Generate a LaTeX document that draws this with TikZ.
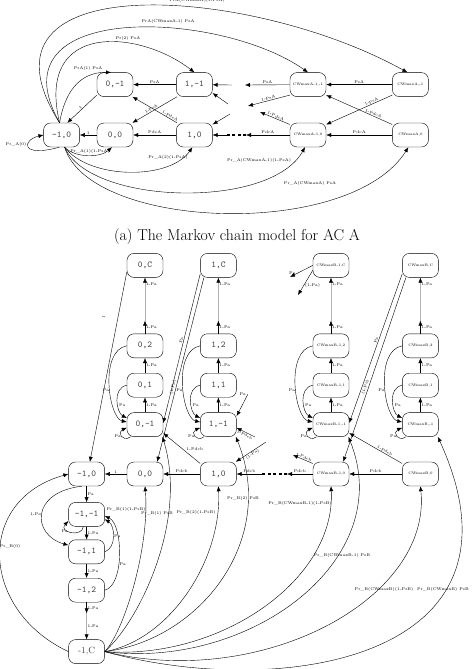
\documentclass[tikz,border=0pt]{standalone}
\usetikzlibrary{positioning,arrows.meta}

\begin{document}
\begin{tikzpicture}[
        x=1pt, y=1pt, line width=0.4pt,
        state/.style = {
            draw,
            rounded corners=7pt,
            minimum width=36pt,
            minimum height=24pt,
            inner sep=1pt,
            text=black!75,
            font=\fontsize{9}{10}\ttfamily
        },
        cwstate/.style = {state, text=black, font=\fontsize{3.6}{4}\selectfont},
        lbl/.style = {font=\fontsize{4}{4.5}\selectfont, inner sep=0.8pt},
        arr/.style = {-{Latex[length=5pt,width=4pt]}},
        faint/.style = {-{Latex[length=5pt,width=4pt,color=black]}, draw=black!30},
        gap/.style = {line width=1.3pt, dash pattern=on 3pt off 2.5pt},
        node distance=15pt]

    \useasboundingbox (0,0) rectangle (474,-669);

    % (a) chain for AC A
    \node[state] (a00) at (115,-135) {0,0};
    \node[state, left=17pt of a00] (am10) {-1,0};
    \node[state, right=43pt of a00] (a10) {1,0};
    \node[cwstate] (aV0) at (308,-135) {CWmaxA-1,0};
    \node[cwstate, right=66pt of aV0] (aW0) {CWmaxA,0};
    \node[state, above=26pt of a00] (a0m1) {0,-1};
    \node[state, above=26pt of a10] (a1m1) {1,-1};
    \node[cwstate, above=26pt of aV0] (aVm1) {CWmaxA-1,-1};
    \node[cwstate, above=26pt of aW0] (aWm1) {CWmaxA,-1};

    \coordinate (aL1) at (245,-85);
    \coordinate (aL2) at (248,-106);
    \coordinate (aL3) at (260,-112);
    \coordinate (aD1) at (246,-135);
    \coordinate (aD2) at (227,-135);
    \coordinate (aR1) at (232,-85);
    \coordinate (aR2) at (228,-104);
    \coordinate (aR3) at (230,-114);

    \draw[arr] (a1m1) -- node[lbl, above] {PsA} (a0m1);
    \draw[arr] (a1m1.-145) -- node[lbl, sloped, above, pos=0.55] {1-PsA} (a00.35);
    \draw[arr] (a10.145) -- node[lbl, sloped, above, pos=0.18] {1-PdcA} (a0m1.-35);
    \draw[arr] (a10) -- node[lbl, above] {PdcA} (a00);
    \draw[arr] (a00) -- node[lbl, above] {1} (am10);
    \draw[arr] (a0m1.-150) -- node[lbl, sloped, above] {1} (am10.65);
    \draw[arr] (aR1) -- (a1m1);
    \draw[arr] (aR2) -- (a1m1.-25);
    \draw[arr] (aR3) -- (a10.30);

    \draw[arr] (aVm1) -- node[lbl, above] {PsA} (aL1);
    \draw[arr] (aVm1.-150) -- node[lbl, sloped, above] {1-PsA} (aL2);
    \draw[arr] (aV0.150) -- node[lbl, sloped, above] {1-PdcA} (aL3);
    \draw[arr] (aV0) -- node[lbl, above] {PdcA} (aD1);
    \draw[gap] (aD1) -- (aD2);
    \draw[arr] (aD2) -- (a10);
    \draw[arr] (aWm1) -- node[lbl, above] {PsA} (aVm1);
    \draw[arr] (aWm1.-150) -- node[lbl, sloped, above, pos=0.3] {1-PsA} (aV0.30);
    \draw[arr] (aW0.150) -- node[lbl, sloped, above, pos=0.3] {1-PdcA} (aVm1.-30);
    \draw[arr] (aW0) -- node[lbl, above] {PdcA} (aV0);

    % arcs leaving -1,0
    \draw[arr] ([xshift=-2pt]am10.north) .. controls (66,-85) and (85,-72) .. ([xshift=-4pt]a0m1.north);
    \draw[arr] ([xshift=-2pt]am10.north) .. controls (35,-20) and (140,-30) .. (a1m1.north);
    \draw[arr] ([xshift=-2pt]am10.north) .. controls (-10,0) and (220,-10) .. (aVm1.north);
    \draw[arr] ([xshift=-2pt]am10.north) .. controls (-40,35) and (250,15) .. ([xshift=-3pt]aWm1.north);
    \draw[arr] (am10.-100) .. controls (20,-158) and (22,-140) .. (am10.west);
    \draw[arr] ([xshift=3pt]am10.south) .. controls (75,-158) and (100,-158) .. ([xshift=-3pt]a00.south);
    \draw[arr] ([xshift=3pt]am10.south) .. controls (90,-180) and (170,-180) .. ([xshift=-2pt]a10.south);
    \draw[arr] ([xshift=3pt]am10.south) .. controls (90,-205) and (270,-210) .. ([xshift=-3pt]aV0.south);
    \draw[arr] ([xshift=3pt]am10.south) .. controls (90,-230) and (350,-240) .. ([xshift=-2pt]aW0.south);

    \node[lbl] (tA1) at (88,-69) {PrA(1) PsA};
    \node[lbl] (tA2) at (128,-39) {Pr(2) PsA};
    \node[lbl] (tA3) at (168,-22) {PrA(CWmaxA-1) PsA};
    \node[lbl] (tA4) at (197,-1) {PrA(CWmaxA)(1-PsA)};
    \node[lbl] (tA5) at (16,-144) {Pr\_A(0)};
    \node[lbl] (tA6) at (90,-151) {Pr\_A(1)(1-PsA)};
    \node[lbl] (tA7) at (168,-157) {Pr\_A(2)(1-PsA)};
    \node[lbl] (tA8) at (259,-160) {Pr\_A(CWmaxA-1)(1-PsA)};
    \node[lbl] (tA9) at (310,-183) {Pr\_A(CWmaxA) PsA};

    \node[font=\fontsize{15.8}{18}\selectfont] (capA) at (237,-237) {(a) The Markov chain model for AC A};

    % (b) chain for AC B
    \node[state] (b00) at (145,-474) {0,0};
    \node[state, left=22pt of b00] (bm10) {-1,0};
    \node[state, right=37pt of b00] (b10) {1,0};
    \node[cwstate] (bV0) at (331,-474) {CWmaxB-1,0};
    \node[cwstate, right=53pt of bV0] (bW0) {CWmaxB,0};

    \node[state, above=25pt of b00] (b0m1) {0,-1};
    \node[state, above=of b0m1] (b01) {0,1};
    \node[state, above=of b01] (b02) {0,2};
    \node[state, above=56pt of b02] (b0C) {0,C};
    \node[state, above=25pt of b10] (b1m1) {1,-1};
    \node[state, above=of b1m1] (b11) {1,1};
    \node[state, above=of b11] (b12) {1,2};
    \node[state, above=56pt of b12] (b1C) {1,C};
    \node[cwstate, above=25pt of bV0] (bVm1) {CWmaxB-1,-1};
    \node[cwstate, above=of bVm1] (bV1) {CWmaxB-1,1};
    \node[cwstate, above=of bV1] (bV2) {CWmaxB-1,2};
    \node[cwstate, above=56pt of bV2] (bVC) {CWmaxB-1,C};
    \node[cwstate, above=25pt of bW0] (bWm1) {CWmaxB,-1};
    \node[cwstate, above=of bWm1] (bW1) {CWmaxB,1};
    \node[cwstate, above=of bW1] (bW2) {CWmaxB,2};
    \node[cwstate, above=56pt of bW2] (bWC) {CWmaxB,C};

    \node[state, below=16pt of bm10] (bm1m1) {-1,-1};
    \node[state, below=13pt of bm1m1] (bm11) {-1,1};
    \node[state, below=14pt of bm11] (bm12) {-1,2};
    \node[state, below=37pt of bm12, font=\fontsize{9}{10}\rmfamily] (bm1C) {-1,C};

    \coordinate[above=13pt of b02] (b0x);
    \coordinate[above=13pt of b12] (b1x);
    \coordinate[above=13pt of bV2] (bVx);
    \coordinate[above=13pt of bW2] (bWx);
    \coordinate[below=11pt of bm12] (bm1x);

    % column 0
    \draw[arr] (b0m1) -- node[lbl, right] {1-Pa} (b01);
    \draw[arr] (b01) -- node[lbl, right] {1-Pa} (b02);
    \draw[arr] (b02) -- node[lbl, right] {1-Pa} (b0x);
    \draw[faint] (b0x) -- node[lbl, right, pos=0.85] {1-Pa} (b0C);
    \draw[arr] (b02.west) .. controls +(-28,-5) and +(-18,4) .. node[lbl, left, pos=0.55] {Pa} (b0m1.172);
    \draw[arr] (b01.west) .. controls +(-15,-3) and +(-10,5) .. node[lbl, right, pos=0.6] {Pa} (b0m1.160);
    \draw[arr] (b0m1.-140) .. controls +(-8,-6) and +(-10,-4) .. node[lbl, left] {Pa} (b0m1.-170);
    \draw[arr] (b0C.-160) -- node[lbl, sloped, above=12pt, pos=0.25] {1} (bm10.75);

    % column 1
    \draw[arr] (b1m1) -- node[lbl, right] {1-Pa} (b11);
    \draw[arr] (b11) -- node[lbl, right] {1-Pa} (b12);
    \draw[arr] (b12) -- node[lbl, right] {1-Pa} (b1x);
    \draw[faint] (b1x) -- node[lbl, right, pos=0.85] {1-Pa} (b1C);
    \draw[arr] (b12.west) .. controls +(-28,-5) and +(-18,4) .. node[lbl, left, pos=0.55] {Pa} (b1m1.172);
    \draw[arr] (b11.west) .. controls +(-15,-3) and +(-10,5) .. node[lbl, right, pos=0.6] {Pa} (b1m1.160);
    \draw[arr] (b1m1.-140) .. controls +(-8,-6) and +(-10,-4) .. node[lbl, left] {Pa} (b1m1.-170);
    \draw[arr] (b1C.-155) -- node[lbl, sloped, above, pos=0.45] {Pa} (b0m1.5);
    \draw[arr] (b1C.-140) -- node[lbl, sloped, above, pos=0.6] {(1-Pa)} (b00.45);

    % column CWmaxB-1
    \draw[arr] (bVm1) -- node[lbl, right] {1-Pa} (bV1);
    \draw[arr] (bV1) -- node[lbl, right] {1-Pa} (bV2);
    \draw[arr] (bV2) -- node[lbl, right] {1-Pa} (bVx);
    \draw[faint] (bVx) -- node[lbl, right, pos=0.85] {1-Pa} (bVC);
    \draw[arr] (bV2.west) .. controls +(-28,-5) and +(-18,4) .. node[lbl, left, pos=0.55] {Pa} (bVm1.172);
    \draw[arr] (bV1.west) .. controls +(-15,-3) and +(-10,5) .. node[lbl, right, pos=0.6] {Pa} (bVm1.160);
    \draw[arr] (bVm1.-140) .. controls +(-8,-6) and +(-10,-4) .. node[lbl, left] {Pa} (bVm1.-170);
    \coordinate (bP1) at (290,-277);
    \coordinate (bP2) at (298,-295);
    \draw[arr] (bVC.west) -- node[lbl, above, pos=0.9] {Pa} (bP1);
    \draw[arr] (bVC.-165) -- node[lbl, right, pos=0.6] {(1-Pa)} (bP2);

    % column CWmaxB
    \draw[arr] (bWm1) -- node[lbl, right] {1-Pa} (bW1);
    \draw[arr] (bW1) -- node[lbl, right] {1-Pa} (bW2);
    \draw[arr] (bW2) -- node[lbl, right] {1-Pa} (bWx);
    \draw[faint] (bWx) -- node[lbl, right, pos=0.85] {1-Pa} (bWC);
    \draw[arr] (bW2.west) .. controls +(-28,-5) and +(-18,4) .. node[lbl, left, pos=0.55] {Pa} (bWm1.172);
    \draw[arr] (bW1.west) .. controls +(-15,-3) and +(-10,5) .. node[lbl, right, pos=0.6] {Pa} (bWm1.160);
    \draw[arr] (bWm1.-140) .. controls +(-8,-6) and +(-10,-4) .. node[lbl, left] {Pa} (bWm1.-170);
    \draw[arr] (bWC.-155) -- node[lbl, sloped, above, pos=0.45] {Pa} (bVm1.5);
    \draw[arr] (bWC.-140) -- node[lbl, sloped, above, pos=0.6] {(1-Pa)} (bV0.45);

    % row 0
    \coordinate (bD1) at (287,-474);
    \coordinate (bD2) at (262,-474);
    \coordinate (bD3) at (293,-455);
    \coordinate (bQ1) at (248,-394);
    \coordinate (bQ2) at (255,-437);
    \coordinate (bQ3) at (266,-442);
    \draw[arr] (bW0) -- node[lbl, above] {Pdcb} (bV0);
    \draw[arr] (bW0.150) -- node[lbl, sloped, above, pos=0.35] {1-Pdcb} (bVm1.-25);
    \draw[arr] (bV0) -- node[lbl, above] {Pdcb} (bD1);
    \draw[arr] (bV0.150) -- node[lbl, sloped, above] {1-Pdcb} (bD3);
    \draw[gap] (bD1) -- (bD2);
    \draw[arr] (bD2) -- node[lbl, above] {Pdcb} (b10);
    \draw[arr] (bQ1) -- node[lbl, above left, pos=0.1] {Pa} (b1m1.25);
    \draw[arr] (bQ2) -- node[lbl, sloped, below] {1-Pdcb} (b1m1.-10);
    \draw[arr] (bQ3) -- node[lbl, sloped, below] {(1-Pa)} (b10.35);
    \draw[arr] (b10) -- node[lbl, above] {Pdcb} (b00);
    \draw[arr] (b10.150) -- node[lbl, above right, pos=0.4] {1-Pdcb} (b0m1.-25);
    \draw[arr] (b00) -- node[lbl, above] {1} (bm10);

    % column -1
    \draw[arr] (bm10) -- node[lbl, right] {Pa} (bm1m1);
    \draw[arr] (bm1m1) -- node[lbl, right] {1-Pa} (bm11);
    \draw[arr] (bm11) -- node[lbl, right] {1-Pa} (bm12);
    \draw[arr] (bm12) -- node[lbl, right] {1-Pa} (bm1x);
    \draw[faint] (bm1x) -- node[lbl, right] {1-Pa} (bm1C);
    \draw[arr] (bm10.-110) .. controls (30,-492) and (32,-535) .. node[lbl, left, pos=0.5] {1-Pa} (bm11.160);
    \draw[arr] (bm1m1.-105) .. controls (82,-538) and (58,-532) .. node[lbl, left, pos=0.6] {Pa} (bm1m1.-160);
    \draw[arr] (bm11.east) .. controls +(12,4) and +(10,-6) .. node[lbl, right] {Pa} (bm1m1.-15);
    \draw[arr] (bm12.east) .. controls +(20,5) and +(18,-8) .. node[lbl, right, pos=0.4] {Pa} (bm1m1.-5);
    \draw[arr] (bm1C.west) .. controls (-20,-610) and (-25,-500) .. (bm10.west);

    % arcs leaving -1,C
    \draw[arr] (bm1C.east) .. controls (125,-630) and (150,-545) .. (b00.south);
    \draw[arr] (bm1C.east) .. controls (140,-620) and (188,-520) .. (b0m1.-35);
    \draw[arr] (bm1C.east) .. controls (170,-640) and (222,-560) .. (b10.south);
    \draw[arr] (bm1C.east) .. controls (200,-640) and (278,-540) .. (b1m1.-35);
    \draw[arr] (bm1C.east) .. controls (220,-660) and (336,-580) .. (bV0.south);
    \draw[arr] (bm1C.east) .. controls (250,-670) and (398,-560) .. (bVm1.-35);
    \draw[arr] (bm1C.east) .. controls (260,-690) and (432,-600) .. (bW0.south);
    \draw[arr] (bm1C.east) .. controls (280,-700) and (540,-660) .. (bWm1.-35);

    \node[lbl] (tB0) at (10,-546) {Pr\_B(0)};
    \node[lbl] (tB1) at (126,-509) {Pr\_B(1)(1-PsB)};
    \node[lbl] (tB2) at (157,-513) {Pr\_B(1) PsB};
    \node[lbl] (tB3) at (196,-512) {Pr\_B(2)(1-PsB)};
    \node[lbl] (tB4) at (243,-498) {Pr\_B(2) PsB};
    \node[lbl] (tB5) at (300,-503) {Pr\_B(CWmaxB-1)(1-PsB)};
    \node[lbl] (tB6) at (342,-555) {Pr\_B(CWmaxB-1) PsB};
    \node[lbl] (tB7) at (384,-589) {Pr\_B(CWmaxB)(1-PsB)};
    \node[lbl] (tB8) at (443,-589) {Pr\_B(CWmaxB) PsB};
\end{tikzpicture}
\end{document}
